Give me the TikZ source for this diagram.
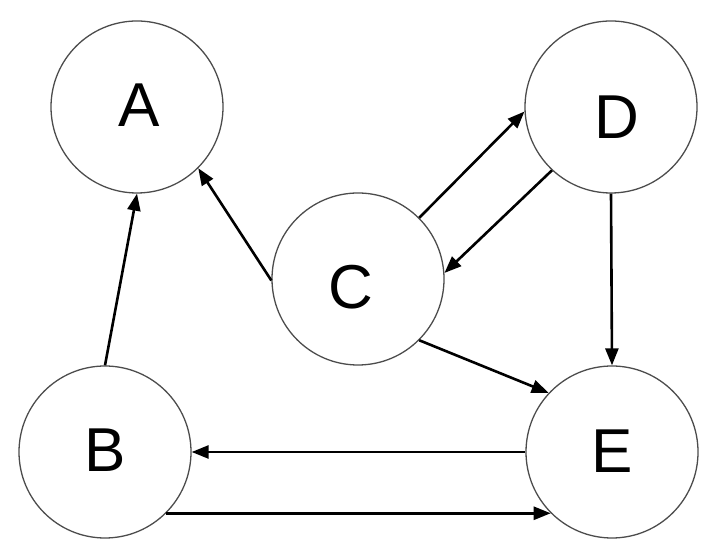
\documentclass[tikz,border=0pt]{standalone}
\usepackage{fontspec}
\setmainfont{Liberation Sans}
\usetikzlibrary{arrows.meta}
\begin{document}
\begin{tikzpicture}[x=1pt,y=1pt,
  vtx/.style={circle,draw=black!70,line width=1.3pt,minimum size=172pt,inner sep=0pt},
  lbl/.style={font=\fontsize{62}{62}\selectfont,inner sep=0pt},
  edge/.style={line width=2.6pt,-{Triangle[length=17pt,width=13pt]}}]
\useasboundingbox (0,0) rectangle (719,556);
\node[vtx,label={[lbl,shift={(2,2)}]center:A}] (A) at (137,449) {};
\node[vtx,label={[lbl,shift={(6,-10)}]center:D}] (D) at (611,449) {};
\node[vtx,label={[lbl,shift={(-7,-8)}]center:C}] (C) at (358,277) {};
\node[vtx,label={[lbl,shift={(0,2)}]center:B}] (B) at (105,104) {};
\node[vtx,label={[lbl,shift={(0,1)}]center:E}] (E) at (612,104) {};
\draw[edge] (B.90) -- (A.270);
\draw[edge] (C.181) -- (A.315);
\draw[edge] (C.45) -- (D.183);
\draw[edge] (D.227) -- (C.4);
\draw[edge] (D.270) -- (E.90);
\draw[edge] (C.315) -- (E.137);
\draw[edge] (E.180) -- (B.0);
\draw[edge] (B.315) -- (E.225);
\end{tikzpicture}
\end{document}
